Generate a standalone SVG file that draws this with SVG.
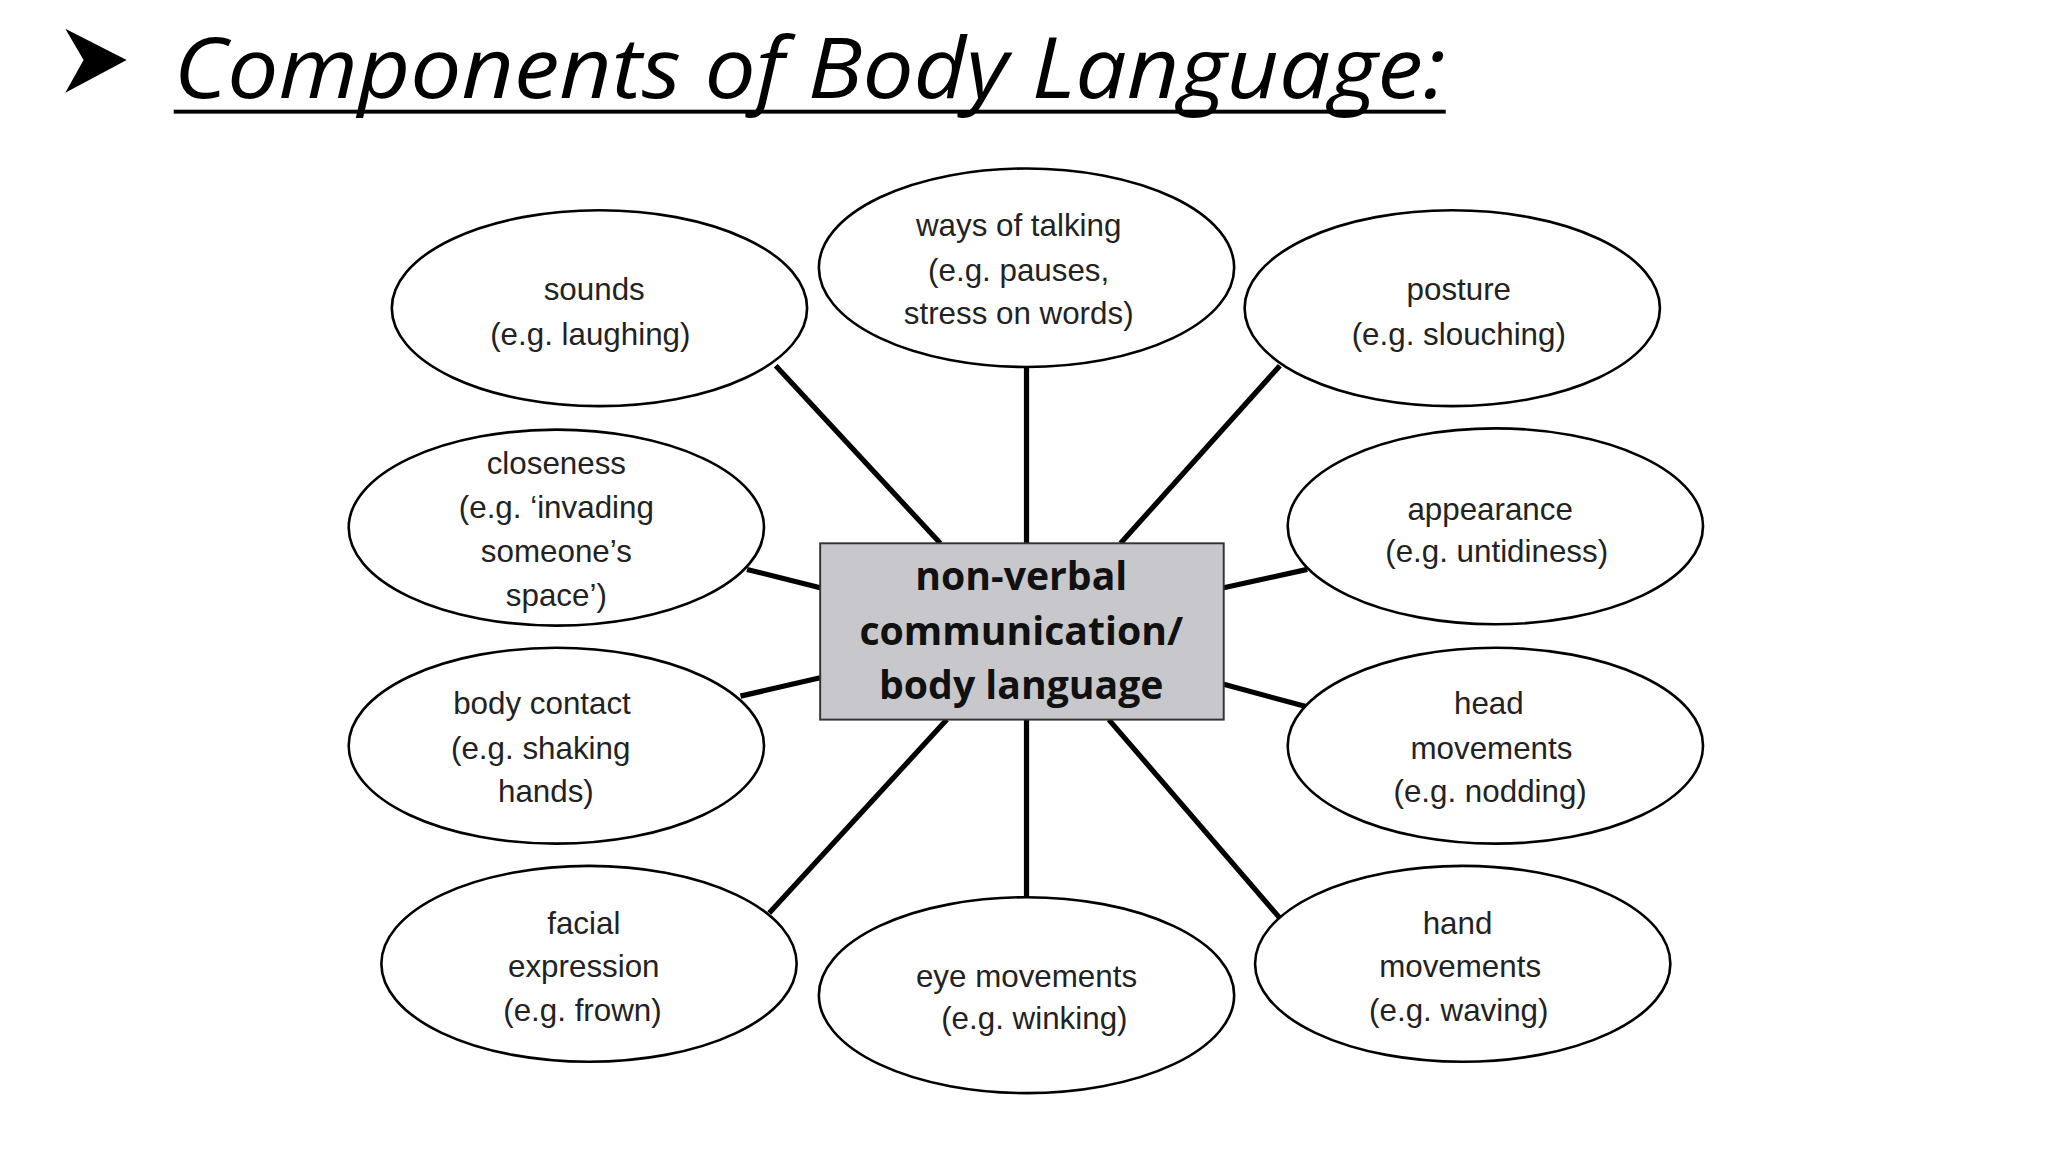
<svg xmlns="http://www.w3.org/2000/svg" width="2048" height="1152" viewBox="0 0 2048 1152">
<style>
.e{fill:#fff;stroke:#000;stroke-width:2}
.t{font-family:"Liberation Sans",Arial,sans-serif;font-size:24px;fill:#222;text-anchor:middle}
.b{font-family:"Open Sans","Liberation Sans",sans-serif;font-size:30px;font-weight:bold;fill:#111;text-anchor:middle}
.c line{stroke:#000;stroke-width:4}
</style>
<rect width="2048" height="1152" fill="#fff"/>
<g transform="scale(1.306)">
<g id="title">
<polygon points="50,22 97,46 50,71 64,46" fill="#000"/>
<text x="133" y="75" font-family="'Open Sans','Liberation Sans',sans-serif" font-style="italic" font-size="64" textLength="974" lengthAdjust="spacingAndGlyphs" fill="#000">Components of Body Language:</text>
<rect x="133" y="84" width="974" height="3" fill="#000"/>
</g>
<g class="c" id="connectors">
<line x1="594" y1="280" x2="720" y2="416"/>
<line x1="786" y1="281" x2="786" y2="416"/>
<line x1="980" y1="280" x2="858" y2="416"/>
<line x1="572" y1="436" x2="628" y2="450"/>
<line x1="937" y1="450" x2="1001" y2="436"/>
<line x1="567" y1="533" x2="628" y2="519"/>
<line x1="937" y1="524" x2="1000" y2="541"/>
<line x1="589" y1="699" x2="725" y2="551"/>
<line x1="786" y1="551" x2="786" y2="687"/>
<line x1="849" y1="551" x2="980" y2="703"/>
</g>
<g id="center"><rect x="628" y="416" width="309" height="135" fill="#c8c8cc" stroke="#333" stroke-width="1.5"/>
<text class="b" x="782" y="452">non-verbal</text><text class="b" x="782" y="494">communication/</text><text class="b" x="782" y="535">body language</text></g>
<g id="sounds"><ellipse class="e" cx="459" cy="236" rx="159" ry="75"/><text class="t" x="455" y="230">sounds</text><text class="t" x="452" y="264">(e.g. laughing)</text></g>
<g id="talking"><ellipse class="e" cx="786" cy="205" rx="159" ry="76"/><text class="t" x="780" y="181">ways of talking</text><text class="t" x="780" y="215">(e.g. pauses,</text><text class="t" x="780" y="248">stress on words)</text></g>
<g id="posture"><ellipse class="e" cx="1112" cy="236" rx="159" ry="75"/><text class="t" x="1117" y="230">posture</text><text class="t" x="1117" y="264">(e.g. slouching)</text></g>
<g id="closeness"><ellipse class="e" cx="426" cy="404" rx="159" ry="75"/><text class="t" x="426" y="363">closeness</text><text class="t" x="426" y="397">(e.g. ‘invading</text><text class="t" x="426" y="430">someone’s</text><text class="t" x="426" y="464">space’)</text></g>
<g id="appearance"><ellipse class="e" cx="1145" cy="403" rx="159" ry="75"/><text class="t" x="1141" y="398">appearance</text><text class="t" x="1146" y="430">(e.g. untidiness)</text></g>
<g id="contact"><ellipse class="e" cx="426" cy="571" rx="159" ry="75"/><text class="t" x="415" y="547">body contact</text><text class="t" x="414" y="581">(e.g. shaking</text><text class="t" x="418" y="614">hands)</text></g>
<g id="head"><ellipse class="e" cx="1145" cy="571" rx="159" ry="75"/><text class="t" x="1140" y="547">head</text><text class="t" x="1142" y="581">movements</text><text class="t" x="1141" y="614">(e.g. nodding)</text></g>
<g id="facial"><ellipse class="e" cx="451" cy="738" rx="159" ry="75"/><text class="t" x="447" y="715">facial</text><text class="t" x="447" y="748">expression</text><text class="t" x="446" y="782">(e.g. frown)</text></g>
<g id="eye"><ellipse class="e" cx="786" cy="762" rx="159" ry="75"/><text class="t" x="786" y="756">eye movements</text><text class="t" x="792" y="788">(e.g. winking)</text></g>
<g id="hand"><ellipse class="e" cx="1120" cy="738" rx="159" ry="75"/><text class="t" x="1116" y="715">hand</text><text class="t" x="1118" y="748">movements</text><text class="t" x="1117" y="782">(e.g. waving)</text></g>
</g>
</svg>
